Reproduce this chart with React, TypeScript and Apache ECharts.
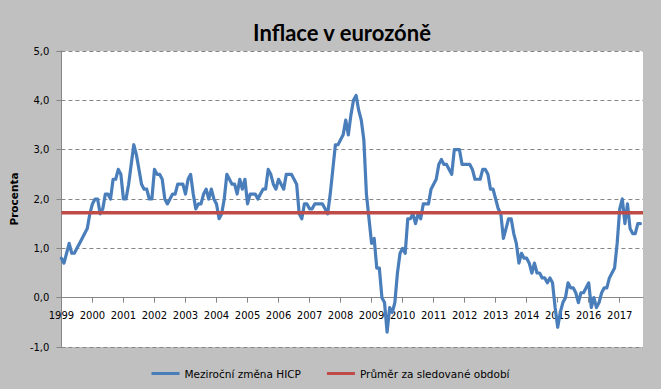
import React, { useEffect, useRef } from "react";
import * as echarts from "echarts";

const years = [1999, 2000, 2001, 2002, 2003, 2004, 2005, 2006, 2007, 2008, 2009, 2010, 2011, 2012, 2013, 2014, 2015, 2016, 2017];

const hicp1999 = [0.8, 0.7, 0.9, 1.1, 0.9, 0.9, 1.0, 1.1, 1.2, 1.3, 1.4, 1.7];
const hicp2000 = [1.9, 2.0, 2.0, 1.7, 1.8, 2.1, 2.1, 2.0, 2.4, 2.4, 2.6, 2.5];
const hicp2001 = [2.0, 2.0, 2.3, 2.7, 3.1, 2.9, 2.6, 2.3, 2.2, 2.2, 2.0, 2.0];
const hicp2002 = [2.6, 2.5, 2.5, 2.4, 2.0, 1.9, 2.0, 2.1, 2.1, 2.3, 2.3, 2.3];
const hicp2003 = [2.1, 2.4, 2.5, 2.1, 1.8, 1.9, 1.9, 2.1, 2.2, 2.0, 2.2, 2.0];
const hicp2004 = [1.9, 1.6, 1.7, 2.0, 2.5, 2.4, 2.3, 2.3, 2.1, 2.4, 2.2, 2.4];
const hicp2005 = [1.9, 2.1, 2.1, 2.1, 2.0, 2.1, 2.2, 2.2, 2.6, 2.5, 2.3, 2.2];
const hicp2006 = [2.4, 2.3, 2.2, 2.5, 2.5, 2.5, 2.4, 2.3, 1.7, 1.6, 1.9, 1.9];
const hicp2007 = [1.8, 1.8, 1.9, 1.9, 1.9, 1.9, 1.8, 1.7, 2.1, 2.6, 3.1, 3.1];
const hicp2008 = [3.2, 3.3, 3.6, 3.3, 3.7, 4.0, 4.1, 3.8, 3.6, 3.2, 2.1, 1.6];
const hicp2009 = [1.1, 1.2, 0.6, 0.6, 0.0, -0.1, -0.7, -0.2, -0.3, -0.1, 0.5, 0.9];
const hicp2010 = [1.0, 0.9, 1.6, 1.6, 1.7, 1.5, 1.7, 1.6, 1.9, 1.9, 1.9, 2.2];
const hicp2011 = [2.3, 2.4, 2.7, 2.8, 2.7, 2.7, 2.6, 2.5, 3.0, 3.0, 3.0, 2.7];
const hicp2012 = [2.7, 2.7, 2.7, 2.6, 2.4, 2.4, 2.4, 2.6, 2.6, 2.5, 2.2, 2.2];
const hicp2013 = [2.0, 1.8, 1.7, 1.2, 1.4, 1.6, 1.6, 1.3, 1.1, 0.7, 0.9, 0.8];
const hicp2014 = [0.8, 0.7, 0.5, 0.7, 0.5, 0.5, 0.4, 0.4, 0.3, 0.4, 0.3, -0.2];
const hicp2015 = [-0.6, -0.3, -0.1, 0.0, 0.3, 0.2, 0.2, 0.1, -0.1, 0.1, 0.1, 0.2];
const hicp2016 = [0.3, -0.2, 0.0, -0.2, -0.1, 0.1, 0.2, 0.2, 0.4, 0.5, 0.6, 1.1];
const hicp2017 = [1.8, 2.0, 1.5, 1.9, 1.4, 1.3, 1.3, 1.5, 1.5];

const hicpByYear = [hicp1999, hicp2000, hicp2001, hicp2002, hicp2003, hicp2004, hicp2005, hicp2006, hicp2007, hicp2008, hicp2009, hicp2010, hicp2011, hicp2012, hicp2013, hicp2014, hicp2015, hicp2016, hicp2017];

const averageValue = 1.72;
const yMin = -1;
const yMax = 5;
const yStep = 1;

const seriesNames = ["Meziroční změna HICP", "Průměr za sledované období"];

// month categories and values
const categories: string[] = [];
const hicpValues: (number | null)[] = [];
years.forEach((y, yi) => {
  hicpByYear[yi].forEach((v, m) => {
    categories.push(`${y}-${String(m + 1).padStart(2, "0")}`);
    hicpValues.push(v);
  });
});
// one trailing empty month so the axis extends to the plot edge
categories.push("2017-10");
hicpValues.push(null);
const averageValues = categories.map(() => averageValue);

const isYearStart = (i: number) => !!categories[i] && categories[i].endsWith("-01");

const GRID = { left: 61, right: 18, top: 51, bottom: 42 };
const CHART_H = 389;

export default function App() {
  const ref = useRef<HTMLDivElement>(null);
  useEffect(() => {
    if (!ref.current) return;
    const chart = echarts.init(ref.current, undefined, { renderer: "svg" });
    const font = "DejaVu Sans";
    const plotH = CHART_H - GRID.top - GRID.bottom;
    // move the category axis up so that it crosses the value axis at zero
    const zeroOffset = -(plotH * (0 - yMin)) / (yMax - yMin);
    chart.setOption({
      animation: false,
      backgroundColor: "#c0c0c0",
      graphic: [
        {
          type: "text",
          x: 342,
          y: 32,
          style: {
            text: "Inflace v eurozóně",
            fill: "#000",
            font: "bold 22px Lato",
            align: "center",
            verticalAlign: "middle",
          },
        },
      ],
      legend: {
        data: [
          { name: seriesNames[0], icon: "rect" },
          { name: seriesNames[1], icon: "rect" },
        ],
        left: "center",
        top: 363,
        itemWidth: 28,
        itemHeight: 3,
        itemGap: 26,
        textStyle: { fontFamily: font, fontSize: 10.5, color: "#000" },
      },
      grid: {
        ...GRID,
        show: true,
        backgroundColor: "#ffffff",
        borderWidth: 0,
      },
      xAxis: {
        type: "category",
        data: categories,
        boundaryGap: false,
        offset: zeroOffset,
        axisLine: { onZero: false, lineStyle: { color: "#868686", width: 1 } },
        axisTick: {
          show: true,
          interval: (i: number) => isYearStart(i),
          length: 5,
          lineStyle: { color: "#868686" },
        },
        axisLabel: {
          interval: (i: number) => isYearStart(i),
          formatter: (v: string) => v.slice(0, 4),
          margin: 13,
          fontFamily: font,
          fontSize: 10,
          color: "#000",
        },
        splitLine: { show: false },
      },
      yAxis: {
        type: "value",
        min: yMin,
        max: yMax,
        interval: yStep,
        name: "Procenta",
        nameLocation: "middle",
        nameGap: 38,
        nameRotate: 90,
        nameTextStyle: { fontFamily: font, fontSize: 10.5, fontWeight: "bold", color: "#000" },
        axisLine: { show: true, lineStyle: { color: "#868686", width: 1 } },
        axisTick: { show: true, length: 5, lineStyle: { color: "#868686" } },
        axisLabel: {
          margin: 12,
          fontFamily: font,
          fontSize: 10,
          color: "#000",
          formatter: (v: number) => v.toFixed(1).replace(".", ","),
        },
        splitLine: { show: true, lineStyle: { color: "#868686", type: [4, 3], width: 1 } },
      },
      series: [
        {
          name: seriesNames[0],
          type: "line",
          data: hicpValues,
          showSymbol: false,
          symbol: "none",
          color: "#4a7ebb",
          lineStyle: { color: "#4a7ebb", width: 3.2, cap: "round", join: "round" },
        },
        {
          name: seriesNames[1],
          type: "line",
          data: averageValues,
          showSymbol: false,
          symbol: "none",
          color: "#be4b48",
          lineStyle: { color: "#be4b48", width: 3.5 },
        },
      ],
    });
    return () => chart.dispose();
  }, []);
  return (
    <div
      ref={ref}
      style={{ position: "fixed", left: 0, top: 0, width: 661, height: 389 }}
    />
  );
}
